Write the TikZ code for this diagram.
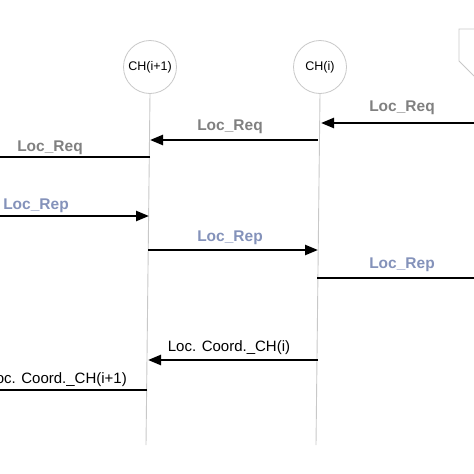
\documentclass[tikz,border=0pt]{standalone}
\usepackage{fontspec}
\setmainfont{Liberation Sans}
\usetikzlibrary{arrows.meta}
\definecolor{reqgray}{RGB}{128,128,128}
\definecolor{repblue}{RGB}{132,146,186}
\definecolor{lifegray}{RGB}{200,200,200}
\begin{document}
\begin{tikzpicture}[x=1pt,y=-1pt,
  actor/.style={circle,draw=lifegray,line width=0.8pt,minimum size=53pt,inner sep=0pt,font=\fontsize{12.5}{14}\selectfont},
  lifeline/.style={draw=lifegray,line width=0.9pt},
  msg/.style={line width=2.4pt,black},
  tipped/.style={msg,-{Triangle[length=13pt,width=10pt]}},
  reqlbl/.style={font=\bfseries\fontsize{15.5}{17}\selectfont,text=reqgray,inner sep=0pt},
  replbl/.style={font=\bfseries\fontsize{15.5}{17}\selectfont,text=repblue,inner sep=0pt},
  coordlbl/.style={font=\fontsize{15}{17}\selectfont,text=black,inner sep=0pt}]
\useasboundingbox (0,0) rectangle (474,474);
% actors
\node[actor] (chi1) at (150,67) {CH(i+1)};
\node[actor] (chi) at (320,67) {CH(i)};
% partial box at top right
\draw[lifegray,line width=0.8pt] (474,29) -- (459,29) -- (459,61) -- (474,76);
% lifelines
\coordinate (chi1end) at (146,445);
\coordinate (chiend) at (316,445);
\draw[lifeline] (chi1.south) -- (chi1end);
\draw[lifeline] (chi.south) -- (chiend);
% message endpoints
\coordinate (m1a) at (476,123); \coordinate (m1b) at (321,123);
\coordinate (m2a) at (318,140); \coordinate (m2b) at (150,140);
\coordinate (m3a) at (150,157); \coordinate (m3b) at (-2,157);
\coordinate (m4a) at (-2,216); \coordinate (m4b) at (149,216);
\coordinate (m5a) at (148,250); \coordinate (m5b) at (318,250);
\coordinate (m6a) at (317,278); \coordinate (m6b) at (476,278);
\coordinate (m7a) at (318,360); \coordinate (m7b) at (148,360);
\coordinate (m8a) at (147,390); \coordinate (m8b) at (-2,390);
% messages
\draw[tipped] (m1a) -- (m1b);
\draw[tipped] (m2a) -- (m2b);
\draw[msg] (m3a) -- (m3b);
\draw[tipped] (m4a) -- (m4b);
\draw[tipped] (m5a) -- (m5b);
\draw[msg] (m6a) -- (m6b);
\draw[tipped] (m7a) -- (m7b);
\draw[msg] (m8a) -- (m8b);
% labels
\node[reqlbl] (l1) at (402,108) {Loc\_Req};
\node[reqlbl] (l2) at (230,127) {Loc\_Req};
\node[reqlbl] (l3) at (50,148) {Loc\_Req};
\node[replbl] (l4) at (36,206) {Loc\_Rep};
\node[replbl] (l5) at (230,238) {Loc\_Rep};
\node[replbl] (l6) at (402,265) {Loc\_Rep};
\node[coordlbl] (l7) at (229,348) {Loc. Coord.\_CH(i)};
\node[coordlbl,anchor=east] (l8) at (127,380) {Loc. Coord.\_CH(i+1)};
\end{tikzpicture}
\end{document}
